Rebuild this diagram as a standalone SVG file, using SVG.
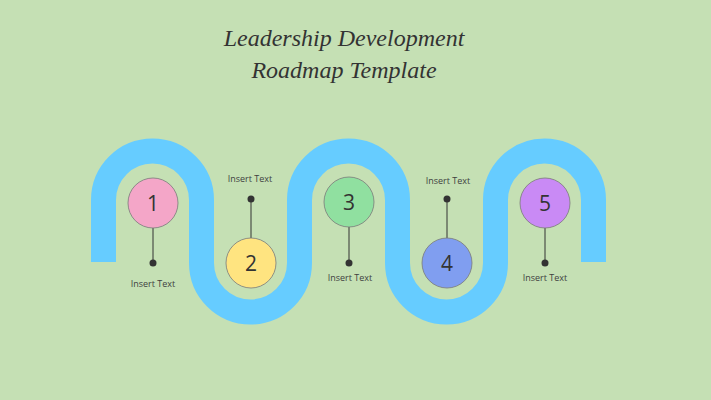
<svg xmlns="http://www.w3.org/2000/svg" width="711" height="400" viewBox="0 0 711 400">
<style>
.t{font-family:"Liberation Serif",serif;font-style:italic;font-size:24px;fill:#333;text-anchor:middle}
.n{stroke:#7a7a7a;stroke-width:0.8}
.num{font-family:"Open Sans","Liberation Sans",sans-serif;font-size:21px;fill:#333;text-anchor:middle}
.lab{font-family:"Open Sans","Liberation Sans",sans-serif;font-size:9px;fill:#404040;text-anchor:middle}
.ln{stroke:#333;stroke-width:1}
</style>
<rect width="711" height="400" fill="#c5e0b4"/>
<text class="t" x="344" y="46">Leadership Development</text>
<text class="t" x="344" y="78">Roadmap Template</text>
<g id="road"><path d="M103.5,262 V200 A49,49 0 0 1 201.5,200 V263 A49,49 0 0 0 299.5,263 V200 A49,49 0 0 1 397.5,200 V263 A49,49 0 0 0 495.5,263 V200 A49,49 0 0 1 593.5,200 V262" fill="none" stroke="#66ccff" stroke-width="25"/></g>
<g id="connectors">
<line class="ln" x1="153" y1="228" x2="153" y2="263"/><circle cx="153" cy="263" r="3.5" fill="#333"/>
<line class="ln" x1="251" y1="199" x2="251" y2="238"/><circle cx="251" cy="199" r="3.5" fill="#333"/>
<line class="ln" x1="349" y1="227" x2="349" y2="263"/><circle cx="349" cy="263" r="3.5" fill="#333"/>
<line class="ln" x1="447" y1="199" x2="447" y2="238"/><circle cx="447" cy="199" r="3.5" fill="#333"/>
<line class="ln" x1="545" y1="228" x2="545" y2="263"/><circle cx="545" cy="263" r="3.5" fill="#333"/>
</g>
<g id="n1"><circle class="n" cx="153" cy="203" r="25" fill="#f4a6c8"/><text class="num" x="153" y="211">1</text><text class="lab" x="153" y="287">Insert Text</text></g>
<g id="n2"><circle class="n" cx="251" cy="263" r="25" fill="#ffe480"/><text class="num" x="251" y="271">2</text><text class="lab" x="250" y="182">Insert Text</text></g>
<g id="n3"><circle class="n" cx="349" cy="202" r="25" fill="#90e0a0"/><text class="num" x="349" y="210">3</text><text class="lab" x="350" y="281">Insert Text</text></g>
<g id="n4"><circle class="n" cx="447" cy="263" r="25" fill="#809ef0"/><text class="num" x="447" y="271">4</text><text class="lab" x="448" y="184">Insert Text</text></g>
<g id="n5"><circle class="n" cx="545" cy="203" r="25" fill="#c98af5"/><text class="num" x="545" y="211">5</text><text class="lab" x="545" y="281">Insert Text</text></g>
</svg>
